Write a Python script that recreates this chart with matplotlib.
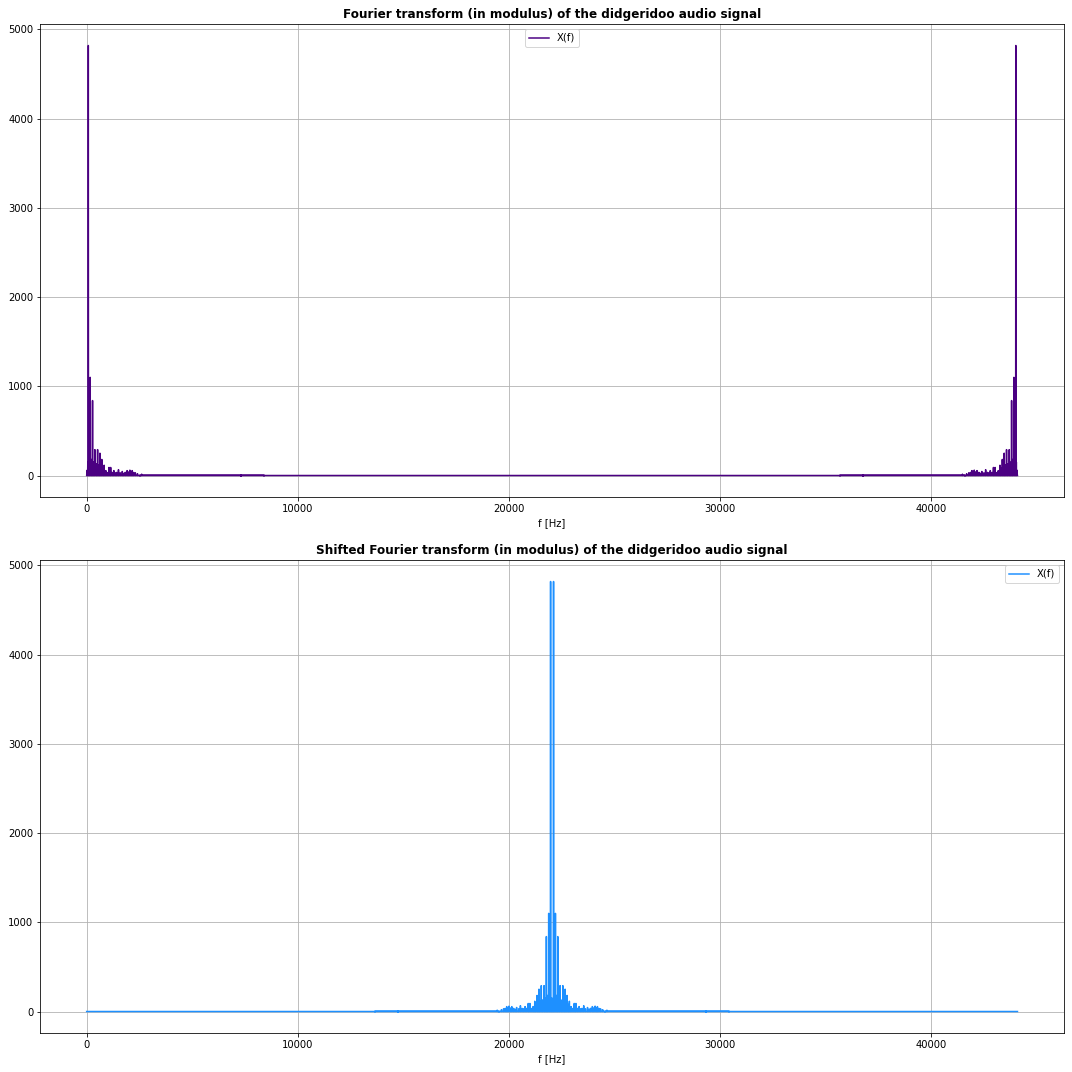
import numpy as np
import matplotlib
matplotlib.use("Agg")
import matplotlib.pyplot as plt

# Sampling rate of the didgeridoo recording (Hz)
fs = 44100

# One-sided spectrum: main harmonics (Hz, |X|)
peak_freqs = [70, 160, 270, 380, 510, 620, 710, 820, 900, 1050, 1130,
              1280, 1500, 1680, 1910, 2040, 2150, 2300]
peak_mags = [4820, 1100, 840, 290, 290, 250, 180, 115, 55, 90, 90,
             55, 65, 45, 55, 60, 55, 30]

# in-between bins that fill the space between harmonics
fill_freqs = [20, 45, 110, 130, 215, 240, 320, 345, 440, 470, 560, 590,
              660, 690, 760, 790, 860, 950, 1000, 1100, 1200, 1350, 1420,
              1580, 1750, 1820, 1980, 2100, 2220, 2400, 2600]
fill_mags = [60, 150, 140, 90, 180, 120, 150, 100, 110, 130, 120, 90,
             90, 70, 80, 60, 50, 35, 30, 40, 35, 30, 35, 30, 25, 35, 40,
             40, 35, 20, 15]

# low noise floor: (start Hz, end Hz, level)
floor_start = [2500, 7300]
floor_end = [7300, 8400]
floor_level = [7, 3]


def spike_line(freqs, mags, half_width=8):
    # each bin drawn as a narrow spike from zero
    order = np.argsort(freqs)
    xs, ys = [], []
    for i in order:
        f, m = freqs[i], mags[i]
        xs += [f - half_width, f, f + half_width]
        ys += [0, m, 0]
    return np.array(xs, dtype=float), np.array(ys, dtype=float)


def floor_line(starts, ends, levels, mirror):
    xs, ys = [], []
    for a, b, lv in zip(starts, ends, levels):
        xa, xb = mirror(a), mirror(b)
        xs += [xa, xa, xb, xb, np.nan]
        ys += [0, lv, lv, 0, np.nan]
    return np.array(xs, dtype=float), np.array(ys, dtype=float)


freqs = peak_freqs + fill_freqs
mags = peak_mags + fill_mags

# full (two-sided) spectrum on 0..fs
full_f = [0] + freqs + [fs - f for f in freqs] + [fs]
full_m = [0] + mags + mags + [0]
x1, y1 = spike_line(full_f, full_m)

# shifted spectrum: zero frequency moved to fs/2
shift_f = [0] + [fs / 2 + f for f in freqs] + [fs / 2 - f for f in freqs] + [fs]
shift_m = [0] + mags + mags + [0]
x2, y2 = spike_line(shift_f, shift_m)

fig, (ax1, ax2) = plt.subplots(2, 1, figsize=(1072 / 72, 1072 / 72), dpi=72)

ax1.plot(x1, y1, color="indigo", lw=1.5, label="X(f)")
for mirror in (lambda f: f, lambda f: fs - f):
    fx, fy = floor_line(floor_start, floor_end, floor_level, mirror)
    ax1.plot(fx, fy, color="indigo", lw=1.5)
ax1.set_title("Fourier transform (in modulus) of the didgeridoo audio signal",
              fontweight="bold")
ax1.set_xlabel("f [Hz]")
ax1.legend(loc="upper center")
ax1.grid()

ax2.plot(x2, y2, color="dodgerblue", lw=1.5, label="X(f)")
for mirror in (lambda f: fs / 2 + f, lambda f: fs / 2 - f):
    fx, fy = floor_line(floor_start, floor_end, floor_level, mirror)
    ax2.plot(fx, fy, color="dodgerblue", lw=1.5)
ax2.set_title("Shifted Fourier transform (in modulus) of the didgeridoo audio signal",
              fontweight="bold")
ax2.set_xlabel("f [Hz]")
ax2.legend(loc="upper right")
ax2.grid()

plt.tight_layout(pad=0.8, h_pad=1.6)
plt.savefig("out.png", dpi=72)
plt.close()
